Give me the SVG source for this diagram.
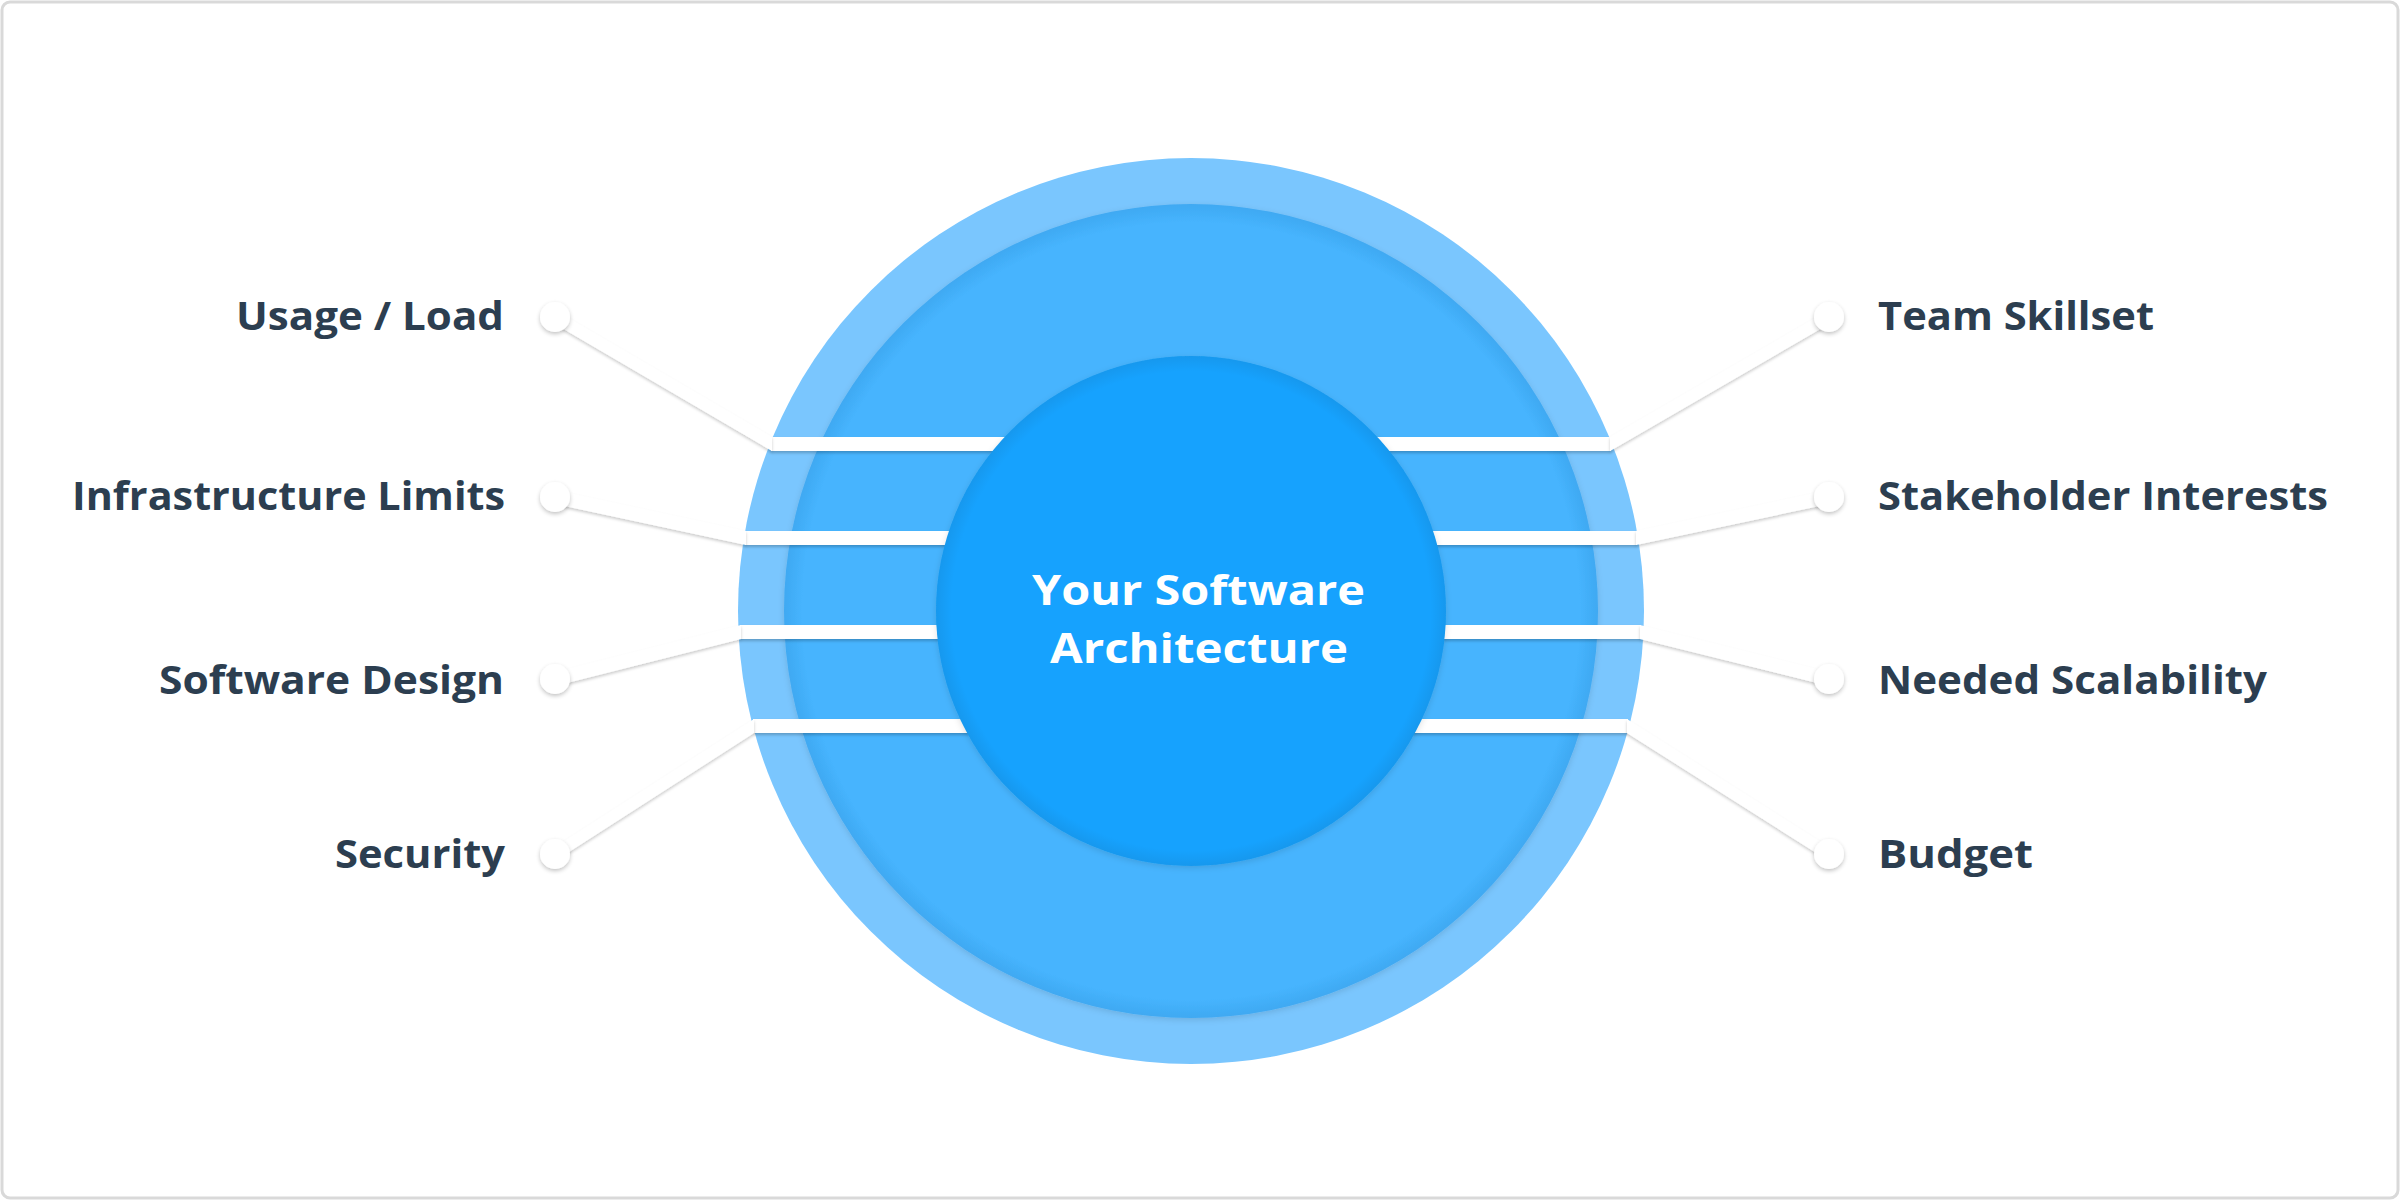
<svg xmlns="http://www.w3.org/2000/svg" width="2400" height="1200" viewBox="0 0 2400 1200">
  <defs>
    <style>
      .frame { fill: #ffffff; stroke: #d9d9d9; stroke-width: 3; }
      .label { font-family: "Open Sans", "Noto Sans", "Liberation Sans", sans-serif; font-weight: 700; font-size: 39px; fill: #2C3E50; }
      .title { font-family: "Open Sans", "Noto Sans", "Liberation Sans", sans-serif; font-weight: 700; font-size: 42px; fill: #ffffff; }
      .bar { fill: #ffffff; filter: url(#barShadow); }
      .wedge { fill: #ffffff; filter: url(#lineShadow); }
      .dot { fill: #ffffff; filter: url(#dotShadow); }
    </style>
    <radialGradient id="gMid" cx="0.5" cy="0.5" r="0.5">
      <stop offset="0" stop-color="#46B4FE"/>
      <stop offset="0.955" stop-color="#46B4FE"/>
      <stop offset="1" stop-color="#3FA9F2"/>
    </radialGradient>
    <radialGradient id="gIn" cx="0.5" cy="0.5" r="0.5">
      <stop offset="0" stop-color="#17A2FE"/>
      <stop offset="0.94" stop-color="#17A2FE"/>
      <stop offset="1" stop-color="#1498EE"/>
    </radialGradient>
    <filter id="barShadow" x="-5%" y="-100%" width="110%" height="300%">
      <feDropShadow dx="0" dy="2" stdDeviation="1.5" flood-color="#000000" flood-opacity="0.22"/>
    </filter>
    <filter id="lineShadow" x="-10%" y="-20%" width="120%" height="140%">
      <feDropShadow dx="0" dy="2" stdDeviation="1.5" flood-color="#000000" flood-opacity="0.2"/>
    </filter>
    <filter id="dotShadow" x="-50%" y="-50%" width="200%" height="200%">
      <feDropShadow dx="0" dy="2" stdDeviation="2" flood-color="#000000" flood-opacity="0.24"/>
    </filter>
    <filter id="ringShadow" x="-10%" y="-10%" width="120%" height="120%">
      <feDropShadow dx="0" dy="2" stdDeviation="3" flood-color="#000000" flood-opacity="0.12"/>
    </filter>
  </defs>

  <rect class="frame" x="2" y="2" width="2396" height="1196" rx="8" ry="8"/>

  <g id="hub-rings">
    <circle cx="1191" cy="611" r="453" fill="#7AC6FE"/>
    <circle cx="1191" cy="611" r="407" fill="url(#gMid)" filter="url(#ringShadow)"/>
  </g>

  <g id="connectors">
    <!-- horizontal bars across the rings -->
    <rect class="bar" x="771" y="437" width="840" height="14"/>
    <rect class="bar" x="745" y="531" width="892" height="14"/>
    <rect class="bar" x="740" y="625" width="901" height="14"/>
    <rect class="bar" x="753" y="719" width="875" height="14"/>
    <!-- left connectors -->
    <polygon class="wedge" points="555,310 772,437 772,451 555,324"/>
    <polygon class="wedge" points="555,490 746,531 746,545 555,504"/>
    <polygon class="wedge" points="555,672 741,625 741,639 555,686"/>
    <polygon class="wedge" points="555,847 754,719 754,733 555,861"/>
    <!-- right connectors -->
    <polygon class="wedge" points="1829,310 1610,437 1610,451 1829,324"/>
    <polygon class="wedge" points="1829,490 1636,531 1636,545 1829,504"/>
    <polygon class="wedge" points="1829,672 1640,625 1640,639 1829,686"/>
    <polygon class="wedge" points="1829,847 1627,719 1627,733 1829,861"/>
  </g>

  <g id="center-node">
    <circle cx="1191" cy="611" r="255" fill="url(#gIn)" filter="url(#ringShadow)"/>
    <text class="title" x="1032" y="605" textLength="333" lengthAdjust="spacingAndGlyphs">Your Software</text>
    <text class="title" x="1050" y="663" textLength="298" lengthAdjust="spacingAndGlyphs">Architecture</text>
  </g>

  <g id="node-usage-load">
    <circle class="dot" cx="555" cy="317" r="15"/>
    <text class="label" x="236" y="330" textLength="268" lengthAdjust="spacingAndGlyphs">Usage / Load</text>
  </g>
  <g id="node-infrastructure-limits">
    <circle class="dot" cx="555" cy="497" r="15"/>
    <text class="label" x="72" y="510" textLength="433" lengthAdjust="spacingAndGlyphs">Infrastructure Limits</text>
  </g>
  <g id="node-software-design">
    <circle class="dot" cx="555" cy="679" r="15"/>
    <text class="label" x="159" y="694" textLength="345" lengthAdjust="spacingAndGlyphs">Software Design</text>
  </g>
  <g id="node-security">
    <circle class="dot" cx="555" cy="854" r="15"/>
    <text class="label" x="335" y="868" textLength="170" lengthAdjust="spacingAndGlyphs">Security</text>
  </g>

  <g id="node-team-skillset">
    <circle class="dot" cx="1829" cy="317" r="15"/>
    <text class="label" x="1878" y="330" textLength="276" lengthAdjust="spacingAndGlyphs">Team Skillset</text>
  </g>
  <g id="node-stakeholder-interests">
    <circle class="dot" cx="1829" cy="497" r="15"/>
    <text class="label" x="1878" y="510" textLength="450" lengthAdjust="spacingAndGlyphs">Stakeholder Interests</text>
  </g>
  <g id="node-needed-scalability">
    <circle class="dot" cx="1829" cy="679" r="15"/>
    <text class="label" x="1878" y="694" textLength="389" lengthAdjust="spacingAndGlyphs">Needed Scalability</text>
  </g>
  <g id="node-budget">
    <circle class="dot" cx="1829" cy="854" r="15"/>
    <text class="label" x="1878" y="868" textLength="155" lengthAdjust="spacingAndGlyphs">Budget</text>
  </g>
</svg>
